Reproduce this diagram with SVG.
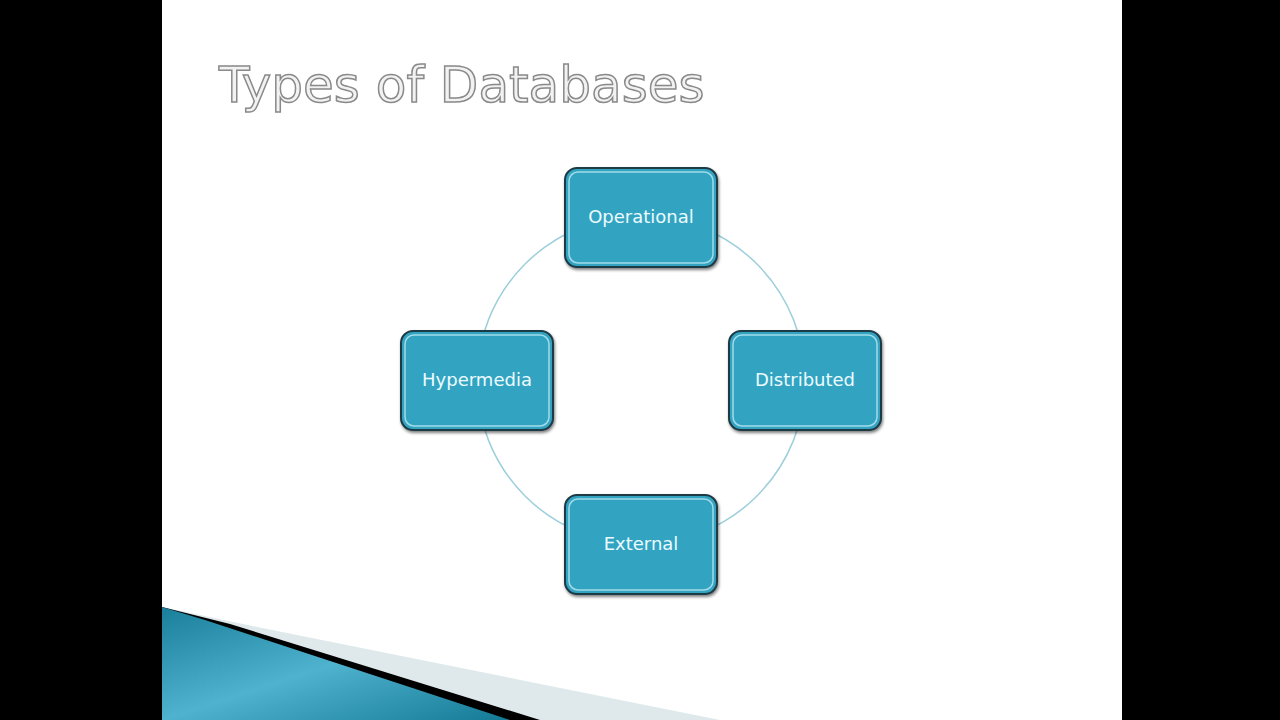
<svg xmlns="http://www.w3.org/2000/svg" width="1280" height="720" viewBox="0 0 1280 720">
<defs>
<linearGradient id="teal" x1="0" y1="0" x2="1" y2="1"><stop offset="0" stop-color="#1a7f9a"/><stop offset="0.5" stop-color="#4fb2cf"/><stop offset="1" stop-color="#137a95"/></linearGradient>
<filter id="sh" x="-10%" y="-10%" width="130%" height="130%"><feDropShadow dx="1" dy="2" stdDeviation="1.5" flood-color="#000" flood-opacity="0.5"/></filter>
<style>
.box{fill:#31a4c2;stroke:#1e3a44;stroke-width:2;filter:url(#sh)}
.hl{fill:none;stroke:#bfe8f3;stroke-width:1.5;opacity:0.8}
.lbl{font-family:"DejaVu Sans",sans-serif;font-size:18px;fill:#ecfbff;text-anchor:middle;dominant-baseline:central}
</style>
</defs>
<rect width="1280" height="720" fill="#000"/>
<rect x="162" y="0" width="960" height="720" fill="#fff"/>
<polygon points="162,607 262,628 720,720 162,720" fill="#dfe9ec"/>
<polygon points="162,607 230,624 540,720 162,720" fill="#000"/>
<polygon points="162,607 205,620 510,720 162,720" fill="url(#teal)"/>
<text x="219" y="102" font-family="DejaVu Sans,sans-serif" font-size="50" fill="#f2f2f2" stroke="#8a8a8a" stroke-width="1.5">Types of Databases</text>
<g id="connectors"><circle cx="641" cy="380" r="164" fill="none" stroke="#9ccfdb" stroke-width="1.5"/></g>
<g id="n-operational"><rect class="box" x="565" y="168" width="152" height="99" rx="12"/><rect class="hl" x="569" y="172" width="144" height="91" rx="9"/><text class="lbl" x="641" y="216">Operational</text></g>
<g id="n-distributed"><rect class="box" x="729" y="331" width="152" height="99" rx="12"/><rect class="hl" x="733" y="335" width="144" height="91" rx="9"/><text class="lbl" x="805" y="379">Distributed</text></g>
<g id="n-external"><rect class="box" x="565" y="495" width="152" height="99" rx="12"/><rect class="hl" x="569" y="499" width="144" height="91" rx="9"/><text class="lbl" x="641" y="543">External</text></g>
<g id="n-hypermedia"><rect class="box" x="401" y="331" width="152" height="99" rx="12"/><rect class="hl" x="405" y="335" width="144" height="91" rx="9"/><text class="lbl" x="477" y="379">Hypermedia</text></g>
</svg>
